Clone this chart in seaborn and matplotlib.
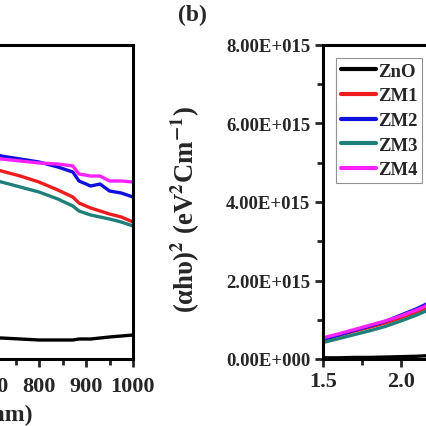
import numpy as np
import pandas as pd
import matplotlib
matplotlib.use("Agg")
import matplotlib.pyplot as plt
from matplotlib.ticker import FuncFormatter, MultipleLocator
import seaborn as sns

samples = ["ZnO", "ZM1", "ZM2", "ZM3", "ZM4"]
colors = ["#000000", "#ee1c1c", "#1010dd", "#1f807a", "#ff22ff"]

# panel (a): absorbance vs wavelength
wavelength = [700, 720, 760, 800, 840, 872, 885, 910, 930, 950, 975, 1000]
abs_zno = [0.21, 0.21, 0.20, 0.19, 0.19, 0.19, 0.20, 0.20, 0.21, 0.22, 0.23, 0.24]
abs_zm1 = [1.90, 1.88, 1.83, 1.77, 1.69, 1.62, 1.56, 1.51, 1.48, 1.45, 1.42, 1.37]
abs_zm2 = [2.05, 2.03, 2.00, 1.97, 1.92, 1.87, 1.78, 1.73, 1.75, 1.68, 1.66, 1.62]
abs_zm3 = [1.79, 1.77, 1.72, 1.67, 1.60, 1.53, 1.48, 1.44, 1.42, 1.40, 1.37, 1.33]
abs_zm4 = [2.01, 2.00, 1.98, 1.96, 1.95, 1.93, 1.85, 1.83, 1.83, 1.78, 1.78, 1.77]

# panel (b): Tauc plot, values in units of 1E+015
energy = [1.5, 1.6, 1.7, 1.8, 1.9, 2.0, 2.1, 2.2]
tauc_zno = [0.03, 0.03, 0.04, 0.04, 0.05, 0.06, 0.07, 0.09]
tauc_zm1 = [0.50, 0.60, 0.71, 0.81, 0.92, 1.05, 1.20, 1.37]
tauc_zm2 = [0.50, 0.61, 0.73, 0.84, 0.96, 1.12, 1.28, 1.47]
tauc_zm3 = [0.42, 0.52, 0.62, 0.72, 0.83, 0.97, 1.12, 1.29]
tauc_zm4 = [0.54, 0.64, 0.75, 0.86, 0.97, 1.10, 1.25, 1.42]

df_a = pd.DataFrame({"wl": wavelength * 5,
                     "A": abs_zno + abs_zm1 + abs_zm2 + abs_zm3 + abs_zm4,
                     "sample": np.repeat(samples, len(wavelength))})
df_b = pd.DataFrame({"E": energy * 5,
                     "T": np.array(tauc_zno + tauc_zm1 + tauc_zm2 + tauc_zm3 + tauc_zm4) * 1e15,
                     "sample": np.repeat(samples, len(energy))})

sns.set_style("white")
plt.rcParams["font.family"] = ["Liberation Serif", "DejaVu Serif"]
plt.rcParams["font.weight"] = "bold"
plt.rcParams["mathtext.fontset"] = "stix"
palette = dict(zip(samples, colors))

fig = plt.figure(figsize=(4.27, 4.27), dpi=100)
W = 427.0
ax1 = fig.add_axes([-243 / W, 67 / W, 376 / W, 314 / W])
ax2 = fig.add_axes([323 / W, 67 / W, 468 / W, 314 / W])

sns.lineplot(data=df_a, x="wl", y="A", hue="sample", palette=palette,
             linewidth=2.4, ax=ax1, legend=False)
sns.lineplot(data=df_b, x="E", y="T", hue="sample", palette=palette,
             linewidth=2.4, ax=ax2)

ax1.set_xlim(200, 1000)
ax1.set_ylim(0, 3.14)
ax1.xaxis.set_major_locator(MultipleLocator(100))
ax1.xaxis.set_minor_locator(MultipleLocator(50))
ax1.set_yticks([])
ax1.set_xlabel("Wavelength (nm)", fontsize=17, fontweight="bold", labelpad=6)
ax1.set_ylabel("Absorbance (a.u.)", fontsize=17, fontweight="bold")
ax1.tick_params(axis="x", which="both", bottom=True, direction="out", labelsize=16, pad=6)
ax1.tick_params(axis="x", which="major", length=6, width=2)
ax1.tick_params(axis="x", which="minor", length=4, width=2)

ax2.set_xlim(1.5, 4.5)
ax2.set_ylim(0, 8e15)
ax2.xaxis.set_major_locator(MultipleLocator(0.5))
ax2.xaxis.set_minor_locator(MultipleLocator(0.25))
ax2.yaxis.set_major_locator(MultipleLocator(2e15))
ax2.yaxis.set_minor_locator(MultipleLocator(1e15))


def origin_fmt(v, pos):
    if v == 0:
        return "0.00E+000"
    exp = int(np.floor(np.log10(abs(v))))
    return f"{v / 10 ** exp:.2f}E+{exp:03d}"


ax2.yaxis.set_major_formatter(FuncFormatter(origin_fmt))
ax2.xaxis.set_major_formatter(FuncFormatter(lambda v, p: f"{v:.1f}"))
ax2.tick_params(which="both", bottom=True, left=True, direction="out")
ax2.tick_params(axis="x", labelsize=16, pad=3)
ax2.tick_params(axis="y", labelsize=13.5, pad=3)
ax2.tick_params(which="major", length=6, width=2)
ax2.tick_params(which="minor", length=4, width=2)
ax2.set_xlabel("Photon energy (eV)", fontsize=17, fontweight="bold")
ax2.set_ylabel(r"(αhυ)$^{\mathbf{2}}$ (eV$^{\mathbf{2}}$Cm$^{\mathbf{-1}}$)", fontsize=19.3,
               fontweight="bold")
ax2.yaxis.set_label_coords(-0.258, 0.478)

for ax in (ax1, ax2):
    for sp in ax.spines.values():
        sp.set_linewidth(2.2)
        sp.set_color("black")
    for lbl in ax.get_xticklabels() + ax.get_yticklabels():
        lbl.set_fontweight("bold")

leg = ax2.legend(loc="upper left", bbox_to_anchor=(336 / W, 1 - 59 / W),
                 bbox_transform=fig.transFigure, borderaxespad=0,
                 prop={"size": 13.5, "weight": "bold"}, handlelength=1.9,
                 handletextpad=0.1, labelspacing=0.4, borderpad=0.25,
                 frameon=True, fancybox=False, title=None)
leg.get_frame().set_edgecolor("#777777")
leg.get_frame().set_linewidth(0.8)
for h in leg.get_lines():
    h.set_linewidth(3)

fig.text(192 / W, 1 - 15 / W, "(b)", fontsize=17, fontweight="bold",
         ha="center", va="center")

fig.savefig("out.png", dpi=100)
